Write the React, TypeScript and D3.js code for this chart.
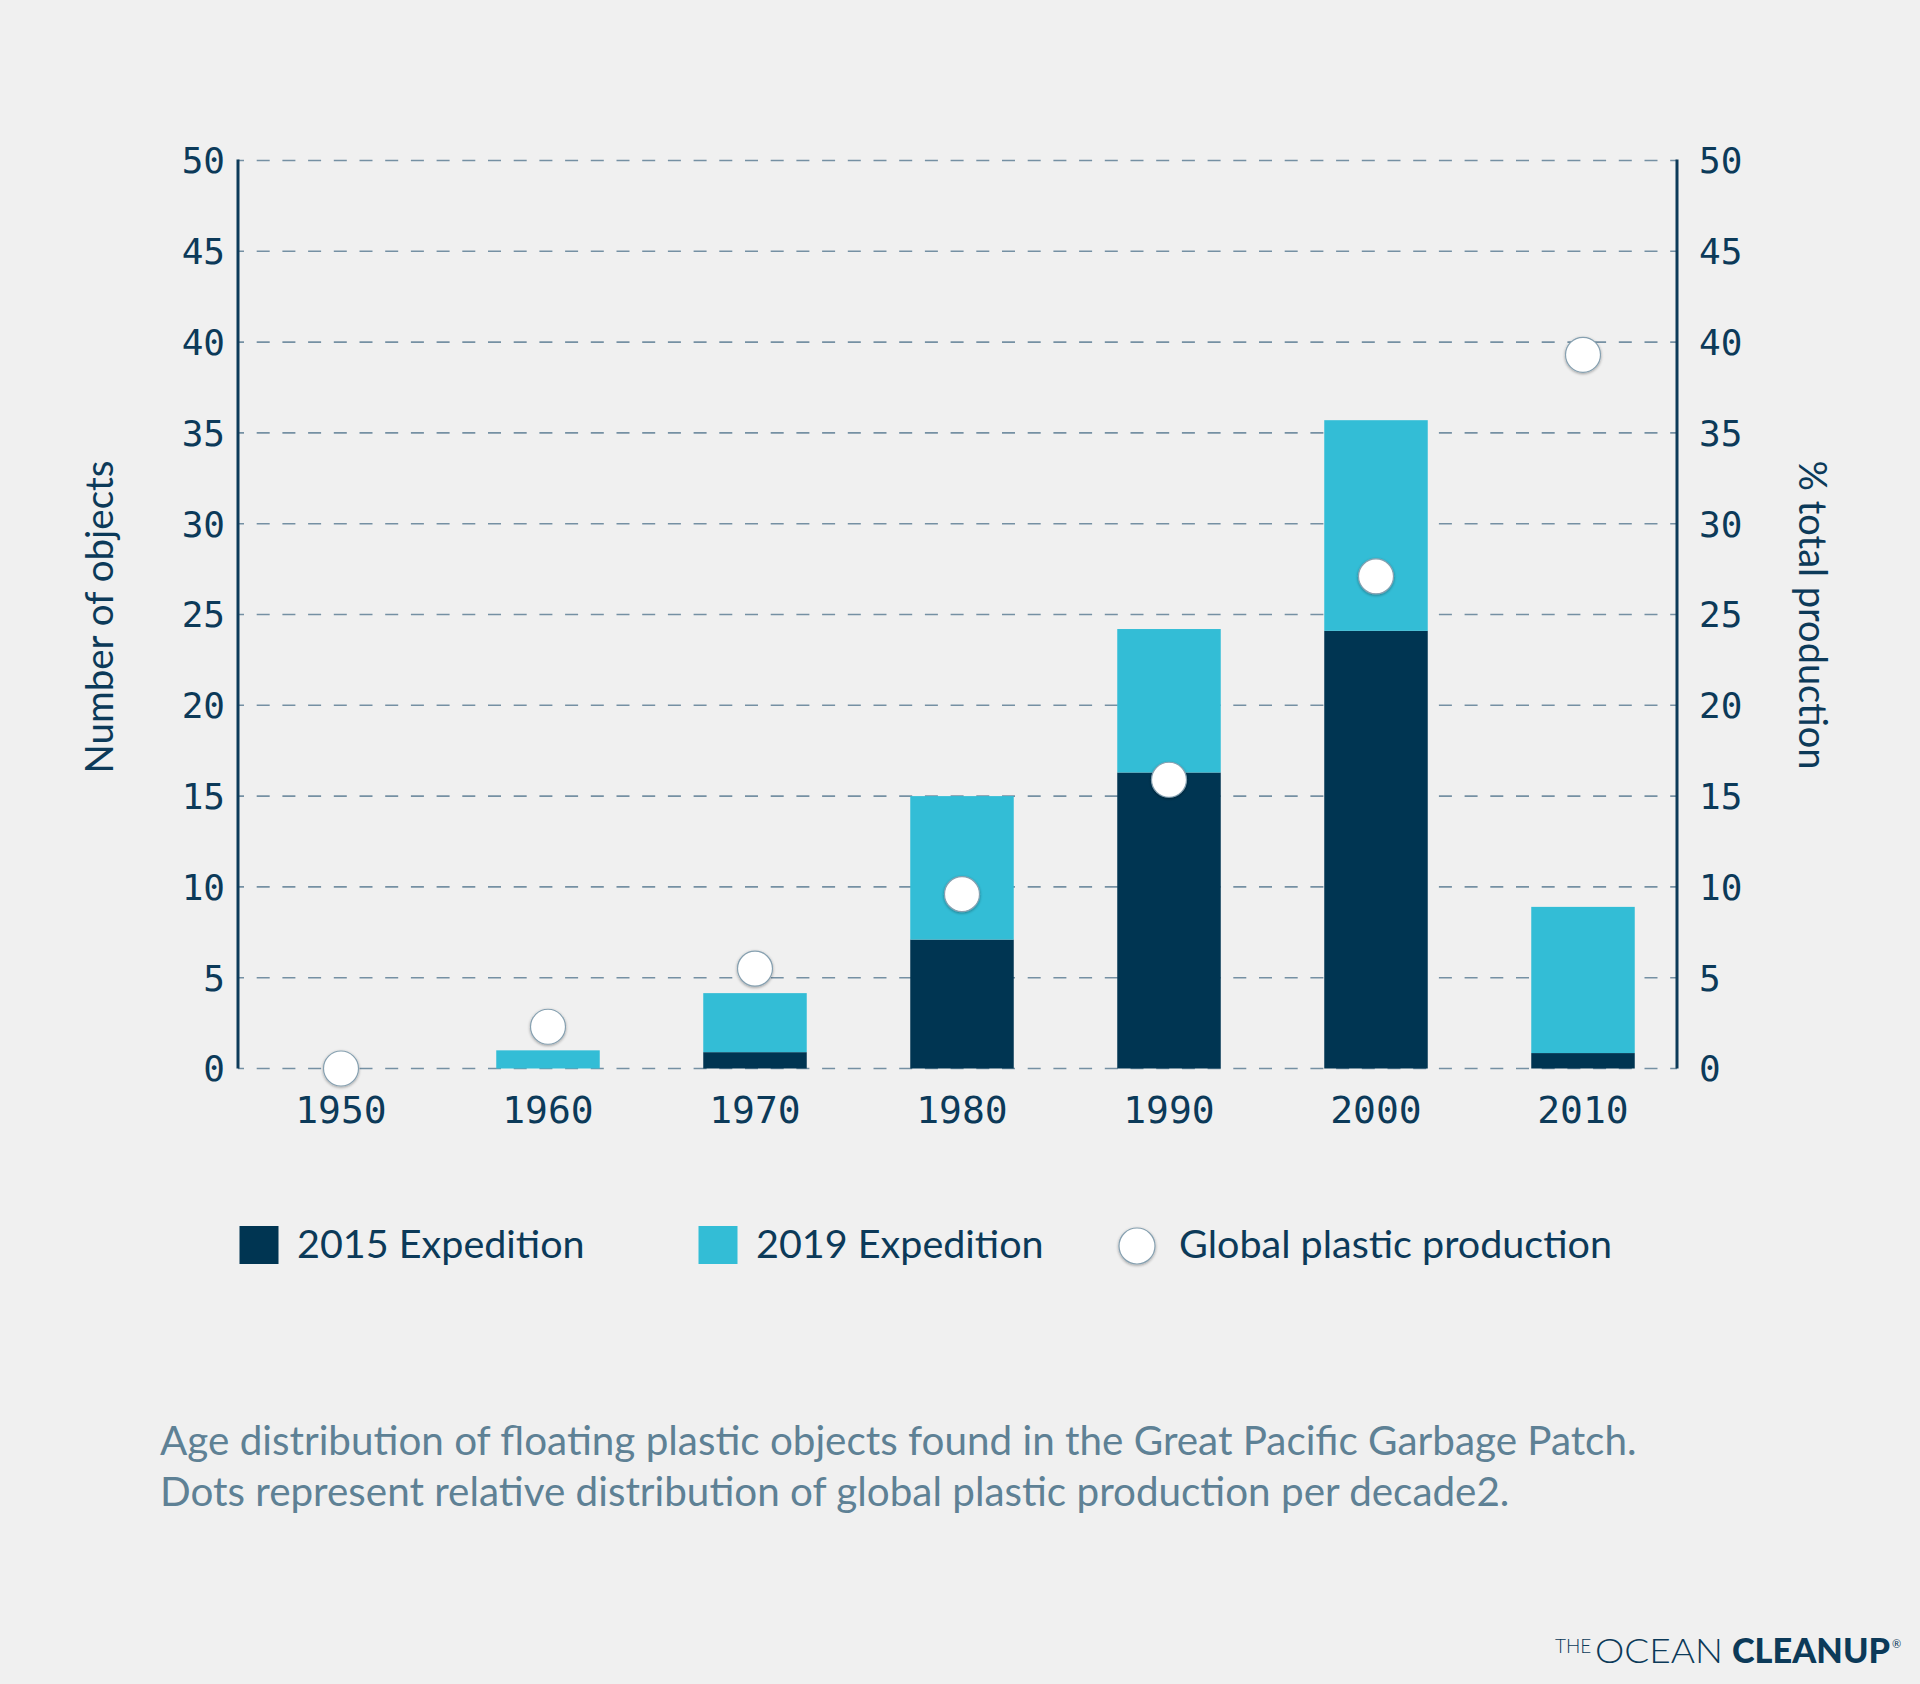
import React, { useRef, useEffect } from "react";
import * as d3 from "d3";

const decades = ["1950", "1960", "1970", "1980", "1990", "2000", "2010"];
const expedition2015 = [0, 0, 0.9, 7.1, 16.3, 24.1, 0.85];
const expedition2019 = [0, 1, 3.25, 7.9, 7.9, 11.6, 8.05];
const globalProduction = [0, 2.3, 5.5, 9.6, 15.9, 27.1, 39.3];
const yTicks = [0, 5, 10, 15, 20, 25, 30, 35, 40, 45, 50];
const legendItems = ["2015 Expedition", "2019 Expedition", "Global plastic production"];
const captionLines = [
  "Age distribution of floating plastic objects found in the Great Pacific Garbage Patch.",
  "Dots represent relative distribution of global plastic production per decade2.",
];

const W = 1920;
const H = 1684;
const NAVY = "#003552";
const CYAN = "#33bdd6";
const AXIS = "#0c3a59";
const GRID = "#7590a3";
const SANS = "Lato, 'Open Sans', sans-serif";
const MONO = "'DejaVu Sans Mono', 'Liberation Mono', monospace";

const App: React.FC = () => {
  const ref = useRef<SVGSVGElement | null>(null);

  useEffect(() => {
    const svg = d3.select(ref.current);
    svg.selectAll("*").remove();

    const left = 238;
    const right = 1677;

    const x = d3
      .scaleBand<string>()
      .domain(decades)
      .range([237.5, 1686.5])
      .paddingInner(0.5)
      .paddingOuter(0.25);
    const y = d3.scaleLinear().domain([0, 50]).range([1068.5, 160.5]);

    // background
    svg.append("rect").attr("width", W).attr("height", H).attr("fill", "#f0f0f0");

    // soft shadow for the dots
    const defs = svg.append("defs");
    const f = defs
      .append("filter")
      .attr("id", "dotShadow")
      .attr("x", "-50%")
      .attr("y", "-50%")
      .attr("width", "200%")
      .attr("height", "200%");
    f.append("feGaussianBlur").attr("in", "SourceAlpha").attr("stdDeviation", 1.5);
    f.append("feOffset").attr("dx", 0).attr("dy", 0.5).attr("result", "b");
    f.append("feComponentTransfer")
      .append("feFuncA")
      .attr("type", "linear")
      .attr("slope", 0.35);
    const merge = f.append("feMerge");
    merge.append("feMergeNode");
    merge.append("feMergeNode").attr("in", "SourceGraphic");

    // gridlines
    svg
      .append("g")
      .selectAll("line")
      .data(yTicks)
      .enter()
      .append("line")
      .attr("x1", left)
      .attr("x2", right)
      .attr("y1", (d) => y(d))
      .attr("y2", (d) => y(d))
      .attr("stroke", GRID)
      .attr("stroke-width", 1.6)
      .attr("stroke-dasharray", "13 12.7")
      .attr("stroke-dashoffset", 7);

    // stacked bars
    const bars = svg.append("g");
    decades.forEach((dec, i) => {
      const a = expedition2015[i];
      const b = expedition2019[i];
      if (a > 0)
        bars
          .append("rect")
          .attr("x", x(dec)!)
          .attr("width", x.bandwidth())
          .attr("y", y(a))
          .attr("height", y(0) - y(a))
          .attr("fill", NAVY);
      if (b > 0)
        bars
          .append("rect")
          .attr("x", x(dec)!)
          .attr("width", x.bandwidth())
          .attr("y", y(a + b))
          .attr("height", y(a) - y(a + b))
          .attr("fill", CYAN);
    });

    // axis lines
    [left, right].forEach((ax) =>
      svg
        .append("line")
        .attr("x1", ax)
        .attr("x2", ax)
        .attr("y1", y(50) - 1)
        .attr("y2", y(0))
        .attr("stroke", AXIS)
        .attr("stroke-width", 3),
    );

    // tick labels
    svg
      .append("g")
      .selectAll("text")
      .data(yTicks)
      .enter()
      .append("text")
      .attr("x", 225)
      .attr("y", (d) => y(d))
      .attr("dy", "0.36em")
      .attr("text-anchor", "end")
      .attr("fill", AXIS)
      .style("font-family", MONO)
      .style("font-size", "36px")
      .text((d) => d);
    svg
      .append("g")
      .selectAll("text")
      .data(yTicks)
      .enter()
      .append("text")
      .attr("x", 1699)
      .attr("y", (d) => y(d))
      .attr("dy", "0.36em")
      .attr("text-anchor", "start")
      .attr("fill", AXIS)
      .style("font-family", MONO)
      .style("font-size", "36px")
      .text((d) => d);
    svg
      .append("g")
      .selectAll("text")
      .data(decades)
      .enter()
      .append("text")
      .attr("x", (d) => x(d)! + x.bandwidth() / 2)
      .attr("y", 1109)
      .attr("dy", "0.36em")
      .attr("text-anchor", "middle")
      .attr("fill", AXIS)
      .style("font-family", MONO)
      .style("font-size", "38px")
      .text((d) => d);

    // axis titles
    svg
      .append("text")
      .attr("transform", "translate(100,617) rotate(-90)")
      .attr("text-anchor", "middle")
      .attr("dy", "0.35em")
      .attr("fill", AXIS)
      .style("font-family", SANS)
      .style("font-size", "38.5px")
      .text("Number of objects");
    svg
      .append("text")
      .attr("transform", "translate(1812,615) rotate(90)")
      .attr("text-anchor", "middle")
      .attr("dy", "0.35em")
      .attr("fill", AXIS)
      .style("font-family", SANS)
      .style("font-size", "38px")
      .text("% total production");

    // production dots
    svg
      .append("g")
      .selectAll("circle")
      .data(globalProduction)
      .enter()
      .append("circle")
      .attr("cx", (d, i) => x(decades[i])! + x.bandwidth() / 2)
      .attr("cy", (d) => y(d))
      .attr("r", 17.5)
      .attr("fill", "#ffffff")
      .attr("stroke", "#86a0b0")
      .attr("stroke-width", 1.2)
      .attr("filter", "url(#dotShadow)");

    // legend
    const lg = svg.append("g");
    lg.append("rect").attr("x", 239.5).attr("y", 1226).attr("width", 39).attr("height", 38).attr("fill", NAVY);
    lg.append("rect").attr("x", 698.5).attr("y", 1226).attr("width", 39).attr("height", 38).attr("fill", CYAN);
    lg.append("circle")
      .attr("cx", 1137)
      .attr("cy", 1246)
      .attr("r", 18)
      .attr("fill", "#ffffff")
      .attr("stroke", "#86a0b0")
      .attr("stroke-width", 1.2)
      .attr("filter", "url(#dotShadow)");
    const legendX = [297, 756, 1179];
    lg.selectAll("text")
      .data(legendItems)
      .enter()
      .append("text")
      .attr("x", (d, i) => legendX[i])
      .attr("y", 1258)
      .attr("fill", AXIS)
      .style("font-family", SANS)
      .style("font-size", "39.5px")
      .text((d) => d);

    // caption
    svg
      .append("g")
      .selectAll("text")
      .data(captionLines)
      .enter()
      .append("text")
      .attr("x", 160)
      .attr("y", (d, i) => 1455 + i * 51)
      .attr("fill", "#5e8195")
      .style("font-family", SANS)
      .style("font-size", "40.4px")
      .text((d) => d);

    // logo
    const logo = svg.append("g").attr("fill", AXIS).style("font-family", SANS);
    logo.append("text").attr("x", 1555).attr("y", 1653).style("font-size", "19px").style("font-weight", 300).text("THE");
    logo
      .append("text")
      .attr("x", 1595)
      .attr("y", 1663)
      .attr("textLength", 128)
      .attr("lengthAdjust", "spacingAndGlyphs")
      .style("font-size", "34px")
      .style("font-weight", 300)
      .text("OCEAN");
    logo
      .append("text")
      .attr("x", 1732)
      .attr("y", 1663)
      .attr("textLength", 158)
      .attr("lengthAdjust", "spacingAndGlyphs")
      .style("font-size", "34px")
      .style("font-weight", 900)
      .text("CLEANUP");
    logo.append("text").attr("x", 1892).attr("y", 1648).style("font-size", "11px").text("®");
  }, []);

  return (
    <div style={{ position: "absolute", left: 0, top: 0, width: W, height: H }}>
      <svg ref={ref} width={W} height={H} style={{ display: "block" }} />
    </div>
  );
};

export default App;
